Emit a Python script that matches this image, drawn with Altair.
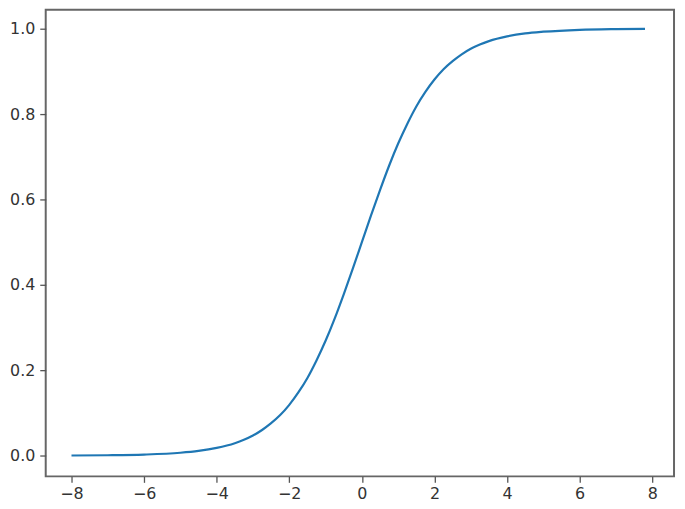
import altair as alt
import pandas as pd

xs = [-8, -7, -6, -5, -4.5, -4, -3.5, -3.25, -3, -2.75, -2.5, -2.25, -2, -1.75, -1.5, -1.25,
      -1, -0.75, -0.5, -0.25, 0, 0.25, 0.5, 0.75, 1, 1.25, 1.5, 1.75, 2, 2.25, 2.5, 2.75,
      3, 3.25, 3.5, 4, 4.5, 5, 6, 7, 7.8]
ys = [0.0003, 0.0009, 0.0025, 0.0067, 0.011, 0.018, 0.029, 0.037, 0.047, 0.060, 0.076, 0.095,
      0.119, 0.148, 0.182, 0.223, 0.269, 0.321, 0.378, 0.438, 0.500, 0.562, 0.622, 0.679,
      0.731, 0.777, 0.818, 0.852, 0.881, 0.905, 0.924, 0.940, 0.953, 0.963, 0.971, 0.982,
      0.989, 0.993, 0.9975, 0.9991, 0.9996]
x_ticks = [-8, -6, -4, -2, 0, 2, 4, 6, 8]
y_ticks = [0.0, 0.2, 0.4, 0.6, 0.8, 1.0]

df = pd.DataFrame({"x": xs, "y": ys})

axis_style = dict(title=None, grid=False, domain=False, tickColor="#555", tickSize=6,
                  tickWidth=1.3, labelColor="#333", labelFontSize=16, labelFont="DejaVu Sans")

chart = alt.Chart(df).mark_line(color="#1f77b4", strokeWidth=2.2, interpolate="monotone").encode(
    x=alt.X("x:Q", scale=alt.Scale(domain=[-8.71, 8.60], nice=False, zero=False),
            axis=alt.Axis(values=x_ticks, format="d", labelPadding=3, **axis_style)),
    y=alt.Y("y:Q", scale=alt.Scale(domain=[-0.0486, 1.0442], nice=False, zero=False),
            axis=alt.Axis(values=y_ticks, format=".1f", labelPadding=5, **axis_style)),
).properties(
    width=633, height=470,
    autosize=alt.AutoSizeParams(type="none"),
    padding={"left": 38, "top": 0, "right": 3, "bottom": 30},
).configure_view(stroke="#666", strokeWidth=2)

chart.save("out.html", embed_options={"renderer": "svg", "actions": False})
